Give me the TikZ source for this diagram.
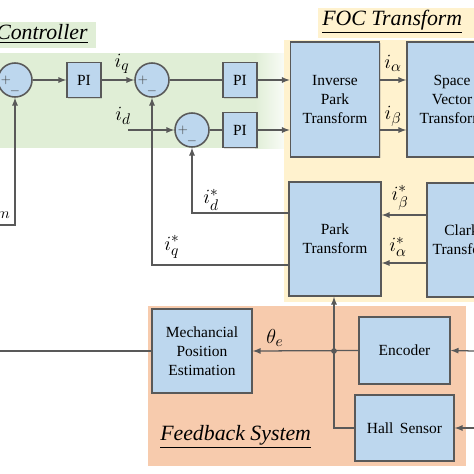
\documentclass[tikz,border=0pt]{standalone}
\usepackage{fontspec}
\setmainfont{Liberation Serif}
\usepackage{amssymb,amsmath}
\usetikzlibrary{shadows}

\definecolor{boxblue}{RGB}{189,215,238}
\definecolor{edgegray}{RGB}{89,89,89}
\definecolor{ctrlgreen}{RGB}{224,238,214}
\definecolor{focyellow}{RGB}{255,242,206}
\definecolor{fbkorange}{RGB}{247,203,173}

\tikzset{
	block/.style={draw=edgegray, line width=1.1pt, fill=boxblue, align=center, inner sep=0pt,
		font=\fontsize{11}{13.5}\selectfont, drop shadow={opacity=0.25, shadow xshift=1pt, shadow yshift=-1pt}},
	sumnode/.style={circle, draw=edgegray, line width=1.1pt, fill=boxblue, minimum size=0.85cm, inner sep=0pt},
	sign/.style={inner sep=0pt, font=\fontsize{9}{9}\selectfont, text=edgegray!70!black},
	wire/.style={draw=edgegray, line width=0.9pt},
	sig/.style={inner sep=0pt, font=\fontsize{15.5}{17}\selectfont},
	title/.style={inner sep=0pt, font=\fontsize{15.5}{18}\selectfont\itshape}
}

\begin{document}
\begin{tikzpicture}[x=0.025cm, y=-0.025cm, >=latex]
		\useasboundingbox (0,0) rectangle (474,474);

		\fill[ctrlgreen] (0,53) rectangle (255,148);
		\shade[left color=ctrlgreen, right color=white] (255,53) rectangle (292,148);
		\fill[ctrlgreen] (0,22) rectangle (96,48);
		\fill[focyellow] (284,40) rectangle (474,302);
		\fill[focyellow] (318,8) rectangle (474,38);
		\fill[fbkorange] (148,306) rectangle (466,466);

		\node[title, anchor=west] (tctrl) at (-4,34) {\underline{Controller}};
		\node[title, anchor=west] (tfoc) at (322,22) {\underline{FOC Transform}};
		\node[title, anchor=west] (tfbk) at (160,437) {\underline{Feedback System}};

		\node[sumnode] (sum1) at (15,80) {};
		\node[sumnode] (sum2) at (152,80) {};
		\node[sumnode] (sum3) at (192,130) {};
		\foreach \s in {1,2,3} {
			\node[sign] (plus\s) at ([shift={(-9,0)}]sum\s.center) {$+$};
			\node[sign] (minus\s) at ([shift={(0,11)}]sum\s.center) {$-$};
		}

		\node[block, minimum width=0.85cm, minimum height=0.875cm] (pi1) at (84,80) {PI};
		\node[block, minimum width=0.85cm, minimum height=0.875cm] (pi2) at (240,80) {PI};
		\node[block, minimum width=0.85cm, minimum height=0.875cm] (pi3) at (240,130) {PI};

		\node[block, minimum width=2.225cm, minimum height=2.875cm] (ipark) at (335,99.5) {Inverse\\Park\\Transform};
		\node[block, minimum width=2.25cm, minimum height=2.875cm] (svt) at (452,99.5) {Space\\Vector\\Transform};
		\node[block, minimum width=2.3cm, minimum height=2.85cm] (park) at (335,239) {Park\\Transform};
		\node[block, minimum width=1.9cm, minimum height=2.85cm] (clarke) at (465,240) {Clarke\\Transform};
		\node[block, minimum width=2.5cm, minimum height=2.1cm] (mpe) at (202,351) {Mechancial\\Position\\Estimation};
		\node[block, minimum width=2.275cm, minimum height=1.675cm] (enc) at (404.5,350.5) {Encoder};
		\node[block, minimum width=2.475cm, minimum height=1.65cm] (hall) at (404.5,428) {Hall\, Sensor};

		\coordinate (idin) at (128,130);
		\coordinate (ya) at (0,215);
		\coordinate (yb) at (0,263);
		\coordinate (yid) at (0,213);
		\coordinate (yiq) at (0,265);
		\coordinate (wm) at (0,225);
		\coordinate (mout) at (0,351);
		\coordinate (tap) at (334,351);
		\coordinate (encin) at (474,351);
		\coordinate (hallin) at (474,428);

		\draw[wire, ->] (sum1) -- (pi1);
		\draw[wire, ->] (pi1) -- (sum2);
		\draw[wire] (sum2) -- (pi2);
		\draw[wire, ->] (idin) -- (sum3);
		\draw[wire] (sum3) -- (pi3);
		\draw[wire, ->] (pi2) -- (pi2 -| ipark.west);
		\draw[wire, ->] (pi3) -- (pi3 -| ipark.west);
		\draw[wire, ->] (ipark.east |- pi2) -- (svt.west |- pi2);
		\draw[wire, ->] (ipark.east |- pi3) -- (svt.west |- pi3);
		\draw[wire, ->] (clarke.west |- ya) -- (park.east |- ya);
		\draw[wire, ->] (clarke.west |- yb) -- (park.east |- yb);
		\draw[wire, ->] (park.west |- yid) -| (sum3.south);
		\draw[wire, ->] (park.west |- yiq) -| (sum2.south);
		\draw[wire, ->] (wm) -| (sum1.south);
		\draw[wire] (mpe.west) -- (mout);
		\draw[wire, ->] (enc.west) -- (mpe.east);
		\draw[wire, ->] (hall.west) -| (park.south -| tap);
		\draw[wire, ->] (encin) -- (enc.east);
		\draw[wire, ->] (hallin) -- (hall.east);
		\fill[edgegray] (tap) circle (2pt);

		\node[sig] (liq) at (122,64) {$i_q$};
		\node[sig] (lid) at (123,116) {$i_d$};
		\node[sig] (lia) at (393,63) {$i_\alpha$};
		\node[sig] (lib) at (393,116) {$i_\beta$};
		\node[sig] (libs) at (400,198) {$i_\beta^*$};
		\node[sig] (lias) at (398,247) {$i_\alpha^*$};
		\node[sig] (lids) at (211,200) {$i_d^*$};
		\node[sig] (liqs) at (172,247) {$i_q^*$};
		\node[sig] (lth) at (275,338) {$\theta_e$};
		\node[sig, anchor=east] (lwm) at (11,213) {$\omega_m$};
\end{tikzpicture}
\end{document}
